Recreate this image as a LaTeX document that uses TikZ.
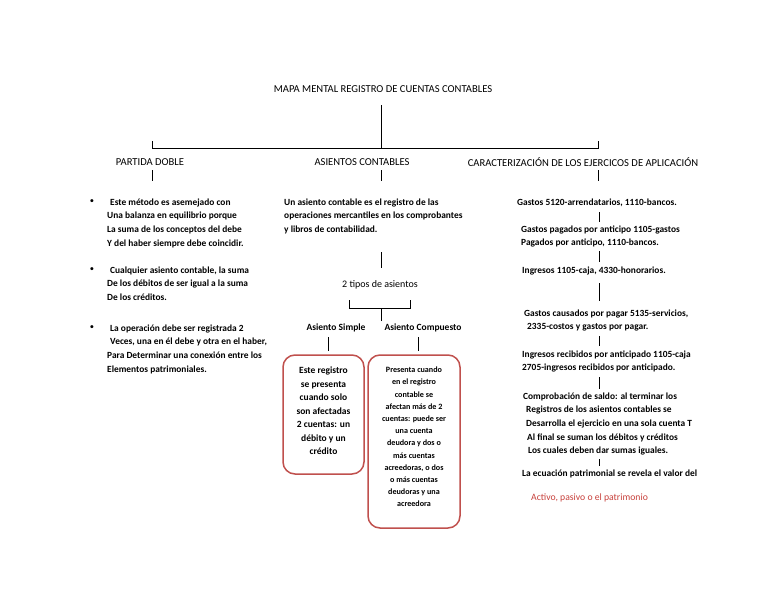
\documentclass[tikz,border=0pt]{standalone}
\usepackage{fontspec}
\setmainfont{Carlito}
\definecolor{boxred}{RGB}{192,80,77}
\definecolor{txtred}{RGB}{200,65,60}
\begin{document}
\begin{tikzpicture}[x=1pt,y=-1pt,
  line/.style={draw=black,line width=0.8pt},
  head/.style={font=\fontsize{10.6}{12}\selectfont,inner sep=0,anchor=center},
  body/.style={font=\bfseries\fontsize{9.4}{13.6}\selectfont,align=left,inner sep=0,anchor=north west,yshift=-1.5pt},
  boxtxt/.style={font=\bfseries\fontsize{9.5}{13.5}\selectfont,align=center,inner sep=0},
  smalltxt/.style={font=\bfseries\fontsize{8.1}{12.2}\selectfont,align=center,inner sep=0},
  roundbox/.style={draw=boxred,line width=1.5pt,rounded corners=12pt,fill=white,inner sep=0},
  bul/.style={font=\fontsize{8.5}{10}\selectfont,inner sep=0,anchor=center}]
\fill[white] (0,0) rectangle (768,594);
\useasboundingbox (0,0) rectangle (768,594);

% title and headings
\node[head] (title) at (383,89) {MAPA MENTAL REGISTRO DE CUENTAS CONTABLES};
\node[head] (pd) at (150,162) {PARTIDA DOBLE};
\node[head] (ac) at (362,162) {ASIENTOS CONTABLES};
\node[head] (car) at (583,162) {CARACTERIZACIÓN DE LOS EJERCICOS DE APLICACIÓN};

% main tree
\coordinate (t0) at (381,105);
\coordinate (j0) at (381,148);
\coordinate (jl) at (152,148);
\coordinate (jr) at (598,148);
\draw[line] (t0) -- (j0);
\draw[line] ([yshift=7pt]jl) -- (jl) -- (jr) -- ([yshift=7pt]jr);
\coordinate (pl1) at (152,170); \coordinate (pl2) at (152,181);
\coordinate (ml1) at (381,170); \coordinate (ml2) at (381,181);
\coordinate (rl1) at (598,170); \coordinate (rl2) at (598,181);
\draw[line] (pl1) -- (pl2);
\draw[line] (ml1) -- (ml2);
\draw[line] (rl1) -- (rl2);

% left column
\node[bul] (b1) at (92,202) {•};
\node[body] (l1) at (107,197) {\hspace{3pt}Este método es asemejado con\\Una balanza en equilibrio porque\\La suma de los conceptos del debe\\Y del haber siempre debe coincidir.};
\node[bul] (b2) at (92,270) {•};
\node[body] (l2) at (107,265) {\hspace{3pt}Cualquier asiento contable, la suma\\De los débitos de ser igual a la suma\\De los créditos.};
\node[bul] (b3) at (92,328) {•};
\node[body] (l3) at (107,323) {\hspace{3pt}La operación debe ser registrada 2\\\hspace{3pt}Veces, una en él debe y otra en el haber,\\Para Determinar una conexión entre los\\Elementos patrimoniales.};

% middle column
\node[body] (m1) at (284,197) {Un asiento contable es el registro de las\\operaciones mercantiles en los comprobantes\\y libros de contabilidad.};
\coordinate (m1a) at (381,252); \coordinate (m1b) at (381,268);
\draw[line] (m1a) -- (m1b);
\node[head,font=\fontsize{10}{12}\selectfont] (tipos) at (380,285) {2 tipos de asientos};
\coordinate (tj) at (381,308);
\coordinate (tjl) at (349,308);
\coordinate (tjr) at (410,308);
\draw[line] ([yshift=-13pt]tj) -- (tj);
\draw[line] ([yshift=8pt]tjl) -- (tjl) -- (tjr) -- ([yshift=8pt]tjr);
\node[boxtxt,anchor=center] (simple) at (336,328) {Asiento Simple};
\node[boxtxt,anchor=center] (comp) at (423,328) {Asiento Compuesto};
\coordinate (s1) at (328,337); \coordinate (s2) at (328,351);
\coordinate (c1) at (418,337); \coordinate (c2) at (418,351);
\draw[line] (s1) -- (s2);
\draw[line] (c1) -- (c2);
\node[roundbox,minimum width=81pt,minimum height=119pt] (box1) at (323.5,414.5) {};
\node[boxtxt] (box1t) at (323.5,411) {Este registro\\se presenta\\cuando solo\\son afectadas\\2 cuentas: un\\débito y un\\crédito};
\node[roundbox,minimum width=92pt,minimum height=173pt] (box2) at (414,441.5) {};
\node[smalltxt] (box2t) at (414,437) {Presenta cuando\\en el registro\\contable se\\afectan más de 2\\cuentas: puede ser\\una cuenta\\deudora y dos o\\más cuentas\\acreedoras, o dos\\o más cuentas\\deudoras y una\\acreedora};

% right column
\node[body] (r1) at (517,197) {Gastos 5120-arrendatarios, 1110-bancos.};
\node[body] (r2) at (521,224) {Gastos pagados por anticipo 1105-gastos\\Pagados por anticipo, 1110-bancos.};
\node[body] (r3) at (522,265) {Ingresos 1105-caja, 4330-honorarios.};
\node[body] (r4) at (524,308) {Gastos causados por pagar 5135-servicios,\\\hspace{3pt}2335-costos y gastos por pagar.};
\node[body] (r5) at (522,349) {Ingresos recibidos por anticipado 1105-caja\\2705-ingresos recibidos por anticipado.};
\node[body] (r6) at (523,391) {Comprobación de saldo: al terminar los\\\hspace{3pt}Registros de los asientos contables se\\\hspace{3pt}Desarrolla el ejercicio en una sola cuenta T\\\hspace{4pt}Al final se suman los débitos y créditos\\\hspace{5pt}Los cuales deben dar sumas iguales.};
\node[body] (r7) at (522,468) {La ecuación patrimonial se revela el valor del};
\node[body,font=\fontsize{9.7}{13.5}\selectfont,text=txtred] (r8) at (531,492) {Activo, pasivo o el patrimonio};
\coordinate (v1a) at (599,212); \coordinate (v1b) at (599,222);
\coordinate (v2a) at (599,251); \coordinate (v2b) at (599,262);
\coordinate (v3a) at (599,283); \coordinate (v3b) at (599,301);
\coordinate (v4a) at (599,336); \coordinate (v4b) at (599,346);
\coordinate (v5a) at (599,377); \coordinate (v5b) at (599,389);
\coordinate (v6a) at (599,459); \coordinate (v6b) at (599,466);
\foreach \i in {1,...,6} {\draw[line] (v\i a) -- (v\i b);}
\end{tikzpicture}
\end{document}
